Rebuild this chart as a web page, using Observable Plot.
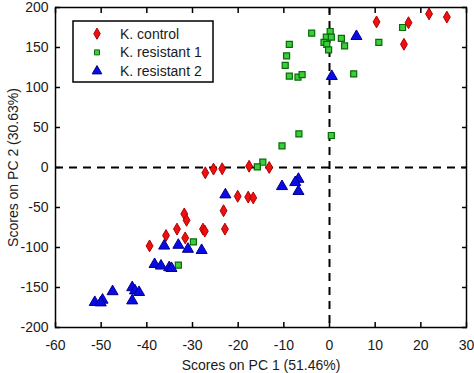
<!DOCTYPE html>
<html><head><meta charset="utf-8">
<script src="https://cdn.jsdelivr.net/npm/d3@7"></script>
<script src="https://cdn.jsdelivr.net/npm/@observablehq/plot@0.6"></script>
<style>body{margin:0;background:#fff;} #chart{width:474px;height:373px;}</style>
</head><body><div id="chart"></div>
<script>
const seriesNames = ["K. control", "K. resistant 1", "K. resistant 2"];

const controlX = [10.3, 17.3, 21.8, 25.7, 16.3, -27.2, -25.4, -23.5, -17.6, -13.2, -20.1, -17.8, -16.7, -23.2, -22.9, -31.8, -31.3, -33.4, -35.8, -39.4, -31.6, -27.7, -27.3];
const controlY = [182, 181, 192, 188, 154, -6.6, -2, -1.6, 1.6, 0, -36, -37, -38, -54, -77, -58, -66, -77, -85, -98, -88, -77, -79.5];

const res1X = [-3.9, 0.15, -0.7, 0.4, -1.2, -0.6, -0.2, 2.6, 3.3, -8.8, -9.4, -9.7, -8.8, -6.9, -6.0, 5.3, 10.8, 16.0, -6.7, -10.4, 0.4, -14.6, -15.8, -29.8, -33.1];
const res1Y = [168, 170, 163, 163, 156.5, 154, 147, 161.5, 152, 154, 139.5, 127.6, 114.3, 113, 116, 117, 156.5, 175, 42, 27, 40, 6.6, 0.8, -93, -122];

const res2X = [5.9, 0.5, -10.4, -6.8, -7.5, -6.8, -22.8, -36.2, -33.1, -31, -28, -38.3, -36.9, -35.1, -34.6, -47.5, -43.2, -42.6, -41.7, -43.2, -51.4, -49.7, -50.1];
const res2Y = [164, 114, -23.6, -14.5, -18.6, -29.8, -34, -98, -97, -102, -103.5, -121, -123, -125, -126, -155, -150, -154, -156, -166.5, -168.5, -165.6, -169];

const xTicks = [-60, -50, -40, -30, -20, -10, 0, 10, 20, 30];
const yTicks = [-200, -150, -100, -50, 0, 50, 100, 150, 200];

const toRows = (xs, ys) => xs.map((x, i) => ({x, y: ys[i]}));
const control = toRows(controlX, controlY);
const res1 = toRows(res1X, res1Y);
const res2 = toRows(res2X, res2Y);

const styles = [
  {symbol: "diamond", r: 3.6, fill: "#ee1010", stroke: "#b00000"},
  {symbol: "square", r: 3.4, fill: "#3ccc3c", stroke: "#076b07"},
  {symbol: "triangle", r: 4.1, fill: "#0a0ae6", stroke: "#00008c"}
];
const d3symbols = [d3.symbolDiamond, d3.symbolSquare, d3.symbolTriangle];

const font = "'Liberation Sans', Arial, sans-serif";
const fmt = d => String(d);

const plot = Plot.plot({
  width: 474, height: 373,
  marginLeft: 55, marginRight: 8, marginTop: 7, marginBottom: 46,
  style: {fontFamily: font, fontSize: "14px", color: "#1a1a1a", background: "white"},
  x: {domain: [-60, 30]},
  y: {domain: [-200, 200]},
  marks: [
    Plot.ruleX([0], {stroke: "black", strokeWidth: 2, strokeDasharray: "8,6"}),
    Plot.ruleY([0], {stroke: "black", strokeWidth: 2, strokeDasharray: "8,6"}),
    Plot.dot(control, {x: "x", y: "y", ...styles[0], strokeWidth: 1}),
    Plot.dot(res1, {x: "x", y: "y", ...styles[1], strokeWidth: 1.2}),
    Plot.dot(res2, {x: "x", y: "y", ...styles[2], strokeWidth: 1}),
    Plot.axisX({ticks: xTicks, tickFormat: fmt, tickSize: -5, tickPadding: 18, stroke: "black", strokeWidth: 1.5,
      label: "Scores on PC 1 (51.46%)", labelAnchor: "center", labelOffset: 42, labelArrow: "none"}),
    Plot.axisX({anchor: "top", ticks: xTicks, tickFormat: () => "", tickSize: -5, stroke: "black", strokeWidth: 1.5, label: null}),
    Plot.axisY({ticks: yTicks, tickFormat: fmt, tickSize: -5, tickPadding: 12, stroke: "black", strokeWidth: 1.5,
      label: "Scores on PC 2 (30.63%)", labelAnchor: "center", labelOffset: 47, labelArrow: "none"}),
    Plot.axisY({anchor: "right", ticks: yTicks, tickFormat: () => "", tickSize: -5, stroke: "black", strokeWidth: 1.5, label: null}),
    Plot.frame({stroke: "black", strokeWidth: 1.5})
  ]
});

// in-plot legend
const svg = d3.select(plot);
const lg = svg.append("g").attr("transform", "translate(73,21)");
lg.append("rect").attr("width", 140).attr("height", 61).attr("fill", "white").attr("stroke", "black").attr("stroke-width", 1.5);
const legendSizes = [36, 25, 40];
seriesNames.forEach((name, i) => {
  const yy = 12.7 + i * 18.7;
  lg.append("path")
    .attr("d", d3.symbol(d3symbols[i], legendSizes[i])())
    .attr("transform", `translate(24,${yy})`)
    .attr("fill", styles[i].fill).attr("stroke", styles[i].stroke).attr("stroke-width", 1);
  lg.append("text").attr("x", 47).attr("y", yy).attr("dy", "0.35em")
    .attr("text-anchor", "start")
    .attr("font-family", font).attr("font-size", 14).attr("fill", "#1a1a1a").text(name);
});

document.getElementById("chart").appendChild(plot);
</script>
</body></html>
